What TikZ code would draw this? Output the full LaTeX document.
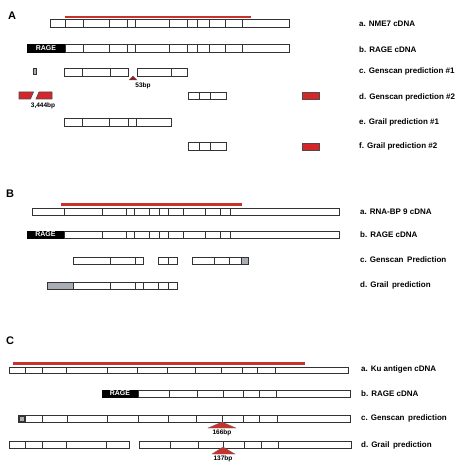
\documentclass[tikz,border=0pt]{standalone}
\usepackage{fontspec}
\setsansfont{Liberation Sans}
\usetikzlibrary{positioning}
\definecolor{cdnared}{HTML}{C8322B}
\definecolor{hitred}{HTML}{D7262A}
\definecolor{darktri}{HTML}{8B2323}
\definecolor{utrgray}{HTML}{A9AEB4}
\tikzset{
  exon/.style={draw=black!80, line width=0.7pt, fill=white},
  ragebox/.style={draw=black, fill=black, line width=0.7pt},
  utrbox/.style={draw=black!80, line width=0.7pt, fill=utrgray},
  cover/.style={draw=cdnared, line width=2.8pt},
  hitbox/.style={draw=black!70, line width=0.6pt, fill=hitred},
  gaptri/.style={draw=black!60, line width=0.3pt},
  rowlabel/.style={anchor=west, inner sep=0pt, font=\sffamily\bfseries\fontsize{8}{9}\selectfont},
  panel/.style={inner sep=0pt, font=\sffamily\bfseries\fontsize{11}{12}\selectfont},
  ragetext/.style={inner sep=0pt, text=white, font=\sffamily\bfseries\fontsize{7}{8}\selectfont},
  bplabel/.style={inner sep=0pt, font=\sffamily\bfseries\fontsize{6.5}{7}\selectfont},
}
% one box of exons: x0, x1, top, bottom, divider list
\newcommand{\exons}[5]{%
  \draw[exon] (#1,#3) rectangle (#2,#4);
  \foreach \d in {#5} \draw[exon] (\d,#3) -- (\d,#4);
}

\begin{document}
\begin{tikzpicture}[x=1pt, y=-1pt]
  \useasboundingbox (0,0) rectangle (474,473);

  % ---- panel A
  \node[panel] (A) at (12,16) {A};
  \draw[cover] (65,17) -- (251,17);
  \exons{50}{289}{19}{27}{65,83,109,127,135,169,187,197,209,225,242}
  \node[rowlabel] (A-a) at (359,24) {a. NME7 cDNA};

  \draw[ragebox] (27,44) rectangle (65,52);
  \node[ragetext] (A-rage) at (46,48) {RAGE};
  \exons{65}{289}{44}{52}{83,109,127,135,169,187,197,209,225,242}
  \node[rowlabel] (A-b) at (359,50) {b. RAGE cDNA};

  \draw[utrbox] (33.5,68) rectangle (36.5,74);
  \exons{64}{128}{68}{76}{82,110}
  \exons{137}{187}{68}{76}{171}
  \draw[gaptri, fill=darktri] (133,76) -- (137,80) -- (129,80) -- cycle;
  \node[bplabel] (A-bp) at (143,86) {53bp};
  \node[rowlabel] (A-c) at (359,71) {c. Genscan prediction \#1};

  \draw[hitbox] (19,92) -- (33.5,92) -- (30.5,99) -- (19,99) -- cycle;
  \draw[hitbox] (39,92) -- (52,92) -- (52,99) -- (36,99) -- cycle;
  \node[bplabel] (A-gap) at (43,106) {3,444bp};
  \exons{188}{226}{92}{99}{199,210}
  \draw[hitbox] (302,92) rectangle (319,99);
  \node[rowlabel] (A-d) at (359,97) {d. Genscan prediction \#2};

  \exons{64}{171}{118}{126}{82,109,128,136}
  \node[rowlabel] (A-e) at (359,122) {e. Grail prediction \#1};

  \exons{188}{226}{142}{150}{199,210}
  \draw[hitbox] (302,143) rectangle (319,150);
  \node[rowlabel] (A-f) at (359,146) {f. Grail prediction \#2};

  % ---- panel B
  \node[panel] (B) at (10,194) {B};
  \draw[cover] (61,204.5) -- (242,204.5);
  \exons{32}{339}{208}{215}{64,102,126,134,149,159,168,183,205,220,230}
  \node[rowlabel] (B-a) at (360,212) {a. RNA-BP 9 cDNA};

  \draw[ragebox] (27,231) rectangle (64,238);
  \node[ragetext] (B-rage) at (45.5,234.5) {RAGE};
  \exons{64}{339}{231}{238}{102,126,134,149,159,168,183,205,220,230}
  \node[rowlabel] (B-b) at (360,235) {b. RAGE cDNA};

  \exons{73}{143}{257}{264}{110,135}
  \exons{158}{177}{257}{264}{168}
  \exons{192}{248}{257}{264}{214,229}
  \draw[utrbox] (241,257) rectangle (248,264);
  \node[rowlabel] (B-c) at (360,260) {c. Genscan\, Prediction};

  \exons{73}{177}{282}{289}{110,135,143,158,168}
  \draw[utrbox] (47,282) rectangle (73,289);
  \node[rowlabel] (B-d) at (360,285) {d. Grail\, prediction};

  % ---- panel C
  \node[panel] (C) at (10,341) {C};
  \draw[cover] (13,363.7) -- (305,363.7);
  \exons{9}{348}{367}{373}{25,42,66,107,137,167,195,221,242,257,275}
  \node[rowlabel] (C-a) at (361,369) {a. Ku antigen cDNA};

  \draw[ragebox] (102,390) rectangle (138,397);
  \node[ragetext] (C-rage) at (120,393.5) {RAGE};
  \exons{138}{350}{390}{397}{169,197,223,243,259,276}
  \node[rowlabel] (C-b) at (361,394) {b. RAGE cDNA};

  \exons{18}{350}{415}{422}{25,42,67,107,138,168,196,222,243,259,277}
  \draw[utrbox] (19.5,416) rectangle (24.5,421);
  \draw[gaptri, fill=cdnared] (222,422) -- (236,428) -- (208,428) -- cycle;
  \node[bplabel] (C-bp1) at (222,433) {166bp};
  \node[rowlabel] (C-c) at (361,418) {c. Genscan\, prediction};

  \exons{9}{129}{441}{448}{25,42,66,106}
  \exons{139}{351}{441}{448}{170,198,223,244,261,278}
  \draw[gaptri, fill=cdnared] (223,447) -- (235,454) -- (212,454) -- cycle;
  \node[bplabel] (C-bp2) at (223,459) {137bp};
  \node[rowlabel] (C-d) at (361,445) {d. Grail\, prediction};
\end{tikzpicture}
\end{document}
